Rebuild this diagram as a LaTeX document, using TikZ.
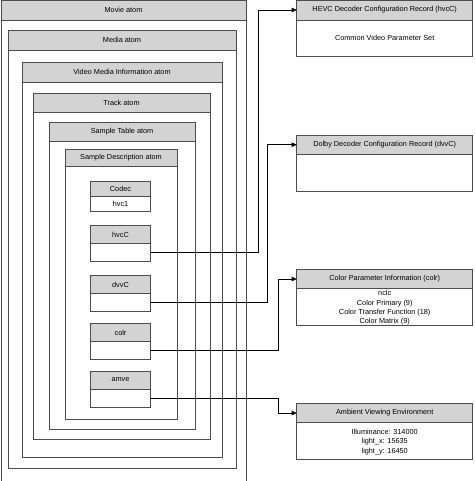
\documentclass[tikz,border=0pt]{standalone}
\usepackage{fontspec}
\setmainfont{Liberation Sans}
\usetikzlibrary{arrows.meta}
\definecolor{hdrgray}{HTML}{D3D3D3}
\definecolor{edgecol}{HTML}{4D4D4D}
\begin{document}
\begin{tikzpicture}[x=1pt,y=-1pt,
  font=\fontsize{7.3}{9.3}\selectfont,
  frame/.style={rectangle, draw=edgecol, line width=0.9pt, anchor=north west, inner sep=0pt, outer sep=0pt},
  hdr/.style={frame, fill=hdrgray},
  conn/.style={draw=black, line width=0.7pt},
  arr/.style={-{Triangle[length=5pt,width=4.5pt]}}
]
\useasboundingbox (0,0) rectangle (474,481);

% nested atoms
\node[frame, minimum width=245pt, minimum height=500pt] (movie) at (1,0) {};
\node[hdr, minimum width=245pt, minimum height=20pt] (movieH) at (1,0) {Movie atom};

\node[frame, minimum width=228pt, minimum height=438pt] (media) at (8,30) {};
\node[hdr, minimum width=228pt, minimum height=20pt] (mediaH) at (8,30) {Media atom};

\node[frame, minimum width=200pt, minimum height=395pt] (vmi) at (22,62) {};
\node[hdr, minimum width=200pt, minimum height=20pt] (vmiH) at (22,62) {Video Media Information atom};

\node[frame, minimum width=177pt, minimum height=346pt] (track) at (33,93) {};
\node[hdr, minimum width=177pt, minimum height=19pt] (trackH) at (33,93) {Track atom};

\node[frame, minimum width=146pt, minimum height=307pt] (stbl) at (49,122) {};
\node[hdr, minimum width=146pt, minimum height=19pt] (stblH) at (49,122) {Sample Table atom};

\node[frame, minimum width=112pt, minimum height=269.5pt] (stsd) at (65,149.5) {};
\node[hdr, minimum width=112pt, minimum height=17pt] (stsdH) at (65,149.5) {Sample Description atom};

% small boxes
\node[hdr, minimum width=60pt, minimum height=15pt] (codecH) at (90.5,181.7) {Codec};
\node[frame, minimum width=60pt, minimum height=15pt] (codecB) at (90.5,196.7) {hvc1};

\node[hdr, minimum width=60pt, minimum height=18pt] (hvcH) at (90.5,225.5) {hvcC};
\node[frame, minimum width=60pt, minimum height=18pt] (hvcB) at (90.5,243.5) {};

\node[hdr, minimum width=60pt, minimum height=18pt] (dvvH) at (90.5,275.5) {dvvC};
\node[frame, minimum width=60pt, minimum height=18pt] (dvvB) at (90.5,293.5) {};

\node[hdr, minimum width=60pt, minimum height=18pt] (sColrH) at (90.5,323.5) {colr};
\node[frame, minimum width=60pt, minimum height=18pt] (sColrB) at (90.5,341.5) {};

\node[hdr, minimum width=60pt, minimum height=18pt] (amveH) at (90.5,371) {amve};
\node[frame, minimum width=60pt, minimum height=18pt] (amveB) at (90.5,389) {};

% right boxes
\node[hdr, minimum width=176pt, minimum height=20pt] (hevcH) at (296.7,0) {HEVC Decoder Configuration Record (hvcC)};
\node[frame, minimum width=176pt, minimum height=36.7pt] (hevcB) at (296.7,20) {Common Video Parameter Set};

\node[hdr, minimum width=176pt, minimum height=19.5pt] (dolbyH) at (296.7,135) {Dolby Decoder Configuration Record (dvvC)};
\node[frame, minimum width=176pt, minimum height=36.5pt] (dolbyB) at (296.7,154.5) {};

\node[hdr, minimum width=176pt, minimum height=19pt] (colorH) at (296.7,269.5) {Color Parameter Information (colr)};
\node[frame, minimum width=176pt, minimum height=37pt] (colorB) at (296.7,288.5) {};
\node[align=center, inner sep=0pt] (colorT) at ([yshift=-1pt]colorB.center) {nclc\\Color Primary (9)\\Color Transfer Function (18)\\Color Matrix (9)};

\node[hdr, minimum width=176pt, minimum height=19pt] (ambH) at (296.7,403.5) {Ambient Viewing Environment};
\node[frame, minimum width=176pt, minimum height=37pt] (ambB) at (296.7,422.5) {};
\node[align=center, inner sep=0pt] (ambT) at ([yshift=-1pt]ambB.center) {Illuminance: 314000\\light\_x: 15635\\light\_y: 16450};

% connectors
\coordinate (xA) at (258.3,0);
\coordinate (xB) at (267.7,0);
\coordinate (xC) at (278.3,0);
\draw[conn,arr] (hvcB.east) -- (hvcB.east -| xA) |- (hevcH.west);
\draw[conn,arr] (dvvB.east) -- (dvvB.east -| xB) |- (dolbyH.west);
\draw[conn,arr] (sColrB.east) -- (sColrB.east -| xC) |- (colorH.west);
\draw[conn,arr] (amveB.east) -- (amveB.east -| xC) |- (ambH.west);
\end{tikzpicture}
\end{document}
